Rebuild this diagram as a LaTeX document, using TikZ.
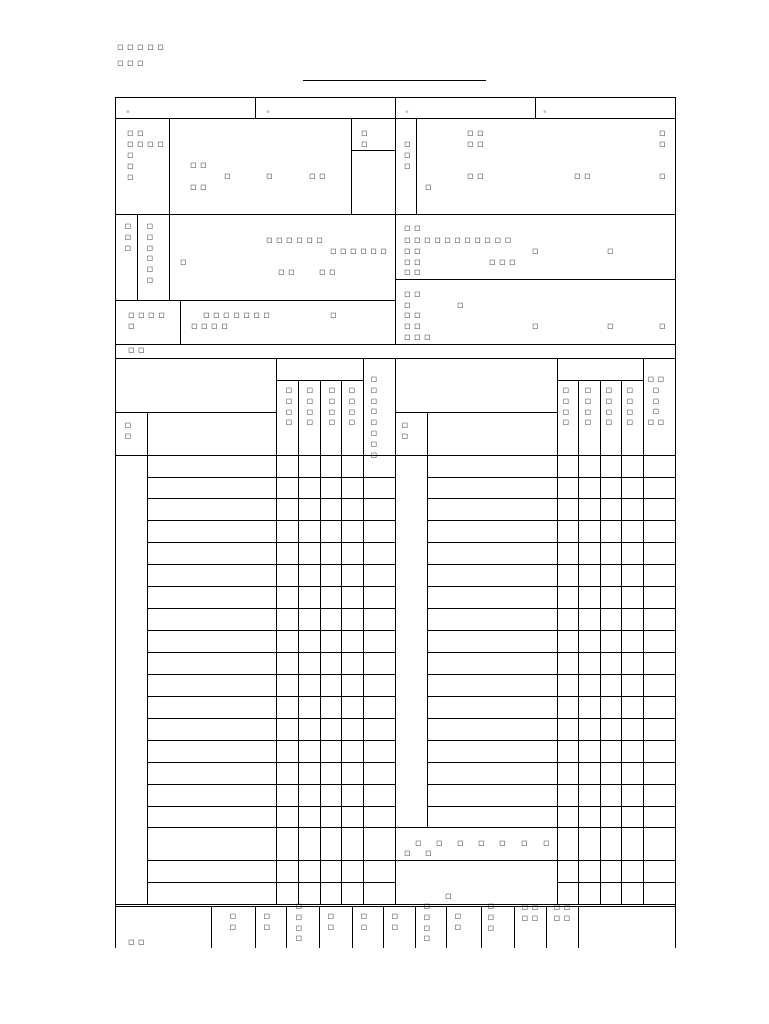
\documentclass[tikz,border=0pt]{standalone}
\usepackage{fontspec}
\setmainfont{DejaVu Sans}[LetterSpace=60]
\begin{document}
\begin{tikzpicture}[x=1pt,y=-1pt,line width=0.8pt,
  tx/.style={anchor=west,inner sep=0pt,font=\fontsize{6.5}{10.8}\selectfont,align=left},
  vx/.style={anchor=north,inner sep=0pt,font=\fontsize{6.5}{10.8}\selectfont,align=center},
  mk/.style={anchor=center,inner sep=0pt,font=\fontsize{4}{4}\selectfont,text=gray}]
\useasboundingbox (0,0) rectangle (768,1024);
\newcommand\T[3]{\node[tx] at (#1,#2) {#3};}
\newcommand\V[3]{\node[vx] at (#1,#2) {#3};}
\T{117}{48}{□□□□□}
\T{117}{64}{□□□}
\draw (303,80) -- (486,80);
\draw (115,948) -- (115,97) -- (675,97) -- (675,948);
\draw (115,118) -- (675,118);
\foreach \x in {255,395,535} {\draw (\x,97) -- (\x,118);}
\foreach \x in {128,268,407,545} {\node[mk] at (\x,112) {⊕};}
\draw (169,118) -- (169,214) (351,118) -- (351,214) (395,118) -- (395,344) (416,118) -- (416,214);
\draw (351,150) -- (395,150);
\draw (115,214) -- (675,214);
\T{127}{134}{□□}\T{127}{145}{□□□□}\T{127}{156}{□}\T{127}{167}{□}\T{127}{178}{□}
\T{190}{166}{□□}\T{190}{188}{□□}\T{224}{177}{□}\T{266}{177}{□}\T{309}{177}{□□}
\T{361}{134}{□}\T{361}{145}{□}
\T{404}{145}{□}\T{404}{156}{□}\T{404}{167}{□}
\T{467}{134}{□□}\T{467}{145}{□□}\T{659}{134}{□}\T{659}{145}{□}
\T{467}{177}{□□}\T{574}{177}{□□}\T{659}{177}{□}\T{425}{188}{□}
\draw (137,214) -- (137,300) (169,214) -- (169,300);
\draw (115,300) -- (395,300) (395,279) -- (675,279);
\draw (180,300) -- (180,344);
\V{128}{224}{□\\□\\□}
\V{150}{224}{□\\□\\□\\□\\□\\□}
\T{266}{241}{□□□□□□}\T{330}{252}{□□□□□□}\T{180}{263}{□}\T{278}{273}{□□}\T{319}{273}{□□}
\T{404}{229}{□□}\T{404}{241}{□□□□□□□□□□□}\T{404}{252}{□□}\T{532}{252}{□}\T{607}{252}{□}
\T{404}{263}{□□}\T{489}{263}{□□□}\T{404}{273}{□□}
\T{128}{316}{□□□□}\T{128}{327}{□}\T{203}{316}{□□□□□□□}\T{191}{327}{□□□□}\T{330}{316}{□}
\T{404}{295}{□□}\T{404}{306}{□}\T{457}{306}{□}\T{404}{316}{□□}\T{404}{327}{□□}
\T{532}{327}{□}\T{607}{327}{□}\T{659}{327}{□}\T{404}{338}{□□□}
\draw (115,344) -- (675,344) (115,358) -- (675,358);
\T{128}{351}{□□}
\draw (395,358) -- (395,904);
\foreach \x in {276,363,557,643} {\draw (\x,358) -- (\x,904);}
\foreach \x in {298,320,341,578,600,621} {\draw (\x,380) -- (\x,904);}
\draw (276,380) -- (363,380) (557,380) -- (643,380);
\draw (115,412) -- (276,412) (395,412) -- (557,412);
\draw (147,412) -- (147,904) (427,412) -- (427,827);
\foreach \x in {289,310,332,352,566,588,609,630} {\V{\x}{388}{□\\□\\□\\□}}
\V{374}{377}{□\\□\\□\\□\\□\\□\\□\\□}
\V{128}{423}{□\\□}\V{405}{423}{□\\□}
\V{656}{377}{□□\\□\\□\\□\\□□}
\draw (115,455) -- (675,455);
\foreach \y in {477,498,520,542,564,586,608,630,652,674,696,718,740,762,784,806} {\draw (147,\y) -- (395,\y) (427,\y) -- (675,\y);}
\draw (147,827) -- (675,827) (147,860) -- (675,860) (147,882) -- (395,882) (557,882) -- (675,882);
\foreach \x in {415,436,457,478,499,521,543} {\T{\x}{844}{□}}
\T{404}{854}{□}\T{425}{854}{□}
\T{445}{897}{□}
\draw (115,904) -- (675,904) (115,906) -- (675,906);
\foreach \x in {211,255,286,319,352,383,415,446,481,514,546,578} {\draw (\x,906) -- (\x,948);}
\T{128}{943}{□□}
\foreach \x in {233,267,331,364,395,458} {\V{\x}{914}{□\\□}}
\V{299}{904}{□\\□\\□\\□}\V{427}{904}{□\\□\\□\\□}\V{491}{904}{□\\□\\□}
\V{530}{905}{□□\\□□}\V{562}{905}{□□\\□□}
\end{tikzpicture}
\end{document}
